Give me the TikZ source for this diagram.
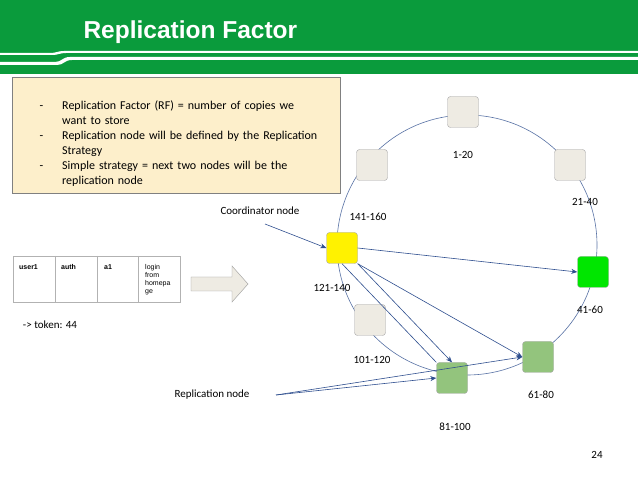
\documentclass[tikz,border=0pt]{standalone}
\usepackage{fontspec}
\setmainfont{Carlito}
\newfontfamily\arialf{Liberation Sans}
\usetikzlibrary{arrows.meta}
\definecolor{hgreen}{HTML}{0A9B3C}
\definecolor{nodegray}{HTML}{EEEBE3}
\definecolor{boxfill}{HTML}{FDEFCB}
\definecolor{repl}{HTML}{93C47D}
\definecolor{lnk}{HTML}{2F4F8F}
\begin{document}
\begin{tikzpicture}[x=1pt,y=-1pt,
 rn/.style={draw=gray!70,rounded corners=3pt,minimum size=31pt,inner sep=0pt,fill=nodegray},
 lab/.style={font=\fontsize{11}{13}\selectfont},
 ln/.style={draw=lnk,line width=0.6pt},
 ar/.style={ln,-{Stealth[length=6pt,width=5pt]}}]
\useasboundingbox (0,0) rectangle (638,478);
\fill[white] (0,0) rectangle (638,478);
\fill[hgreen] (0,0) rectangle (638,74);
\fill[white] (0,62) -- (55,62) .. controls (62,62) and (62,57) .. (70,57) -- (638,57) -- (638,60) -- (72,60) .. controls (64,60) and (64,65) .. (57,65) -- (0,65) -- cycle;
\fill[white] (0,53) -- (50,53) .. controls (57,53) and (57,51) .. (64,51) -- (638,51) -- (638,53) -- (66,53) .. controls (59,53) and (59,55) .. (52,55) -- (0,55) -- cycle;
\node[anchor=west,text=white,font=\arialf\bfseries\fontsize{24.5}{28}\selectfont] (title) at (80,32) {Replication Factor};
\node[draw=gray,line width=0.8pt,fill=boxfill,minimum width=328pt,minimum height=116pt,anchor=north west,inner sep=0pt] (box) at (12,77) {};
\node[anchor=north west,text width=300pt,font=\fontsize{12}{15}\selectfont,align=left,inner sep=0pt] (btxt) at (36,94) {%
\begin{list}{-}{\leftmargin=26pt\labelsep=19pt\itemsep=0pt\parsep=0pt\topsep=0pt}
\item Replication Factor (RF) = number of copies we\\ want to store
\item Replication node will be defined by the Replication\\ Strategy
\item Simple strategy = next two nodes will be the\\ replication node
\end{list}};
\coordinate (c) at (467,245);
\draw[lnk!80,line width=0.6pt] (c) circle (130);
\node[rn] (n1) at (463,112) {};
\node[rn] (n2) at (570,165) {};
\node[rn,fill={rgb,255:red,0;green,230;blue,0}] (n3) at (593,272) {};
\node[rn,fill=repl] (n4) at (538,357) {};
\node[rn,fill=repl] (n5) at (452,378) {};
\node[rn] (n6) at (370,320) {};
\node[rn,fill=yellow] (n7) at (342,248) {};
\node[rn] (n8) at (372,165) {};
\node[lab] (l1) at (463,155) {1-20};
\node[lab] (l2) at (585,202) {21-40};
\node[lab] (l3) at (590,310) {41-60};
\node[lab] (l4) at (541,395) {61-80};
\node[lab] (l5) at (455,427) {81-100};
\node[lab] (l6) at (372,360) {101-120};
\node[lab] (l7) at (332,288) {121-140};
\node[lab] (l8) at (368,217) {141-160};
\node[lab] (coord) at (260,211) {Coordinator node};
\node[lab] (repn) at (212,395) {Replication node};
\node[lab] (tok) at (50,325) {-> token: 44};
\node[lab] (pg) at (597,455) {24};
\coordinate (cs) at (265,224);
\draw[ar] (cs) -- (n7.west);
\draw[ar] (n7.east) -- (n3.west);
\draw[ar] (n7.south east) -- (n4.west);
\draw[ar] (n7.south east) -- (n5.north);
\draw[ln] (n7.south) -- (n5.north west);
\coordinate (rs) at (276,395);
\draw[ar] (rs) -- (n5.west);
\draw[ar] (rs) -- (n4.west);
% table
\begin{scope}[font=\arialf\fontsize{7}{8}\selectfont]
\draw[gray!60] (13,256) rectangle (180,302);
\foreach \x in {55,97,138} \draw[gray!60] (\x,256) -- (\x,302);
\node[anchor=north west,inner sep=0pt,font=\arialf\bfseries\fontsize{7}{8}\selectfont] (t1) at (19,264) {user1};
\node[anchor=north west,inner sep=0pt,font=\arialf\bfseries\fontsize{7}{8}\selectfont] (t2) at (61,264) {auth};
\node[anchor=north west,inner sep=0pt,font=\arialf\bfseries\fontsize{7}{8}\selectfont] (t3) at (104,264) {a1};
\node[anchor=north west,inner sep=0pt,align=left] (t4) at (145,264) {login\\from\\homepa\\ge};
\end{scope}
\draw[gray!80,fill=nodegray] (191,277) -- (232,277) -- (232,266) -- (248,284) -- (232,302) -- (232,291) -- (191,291) -- cycle;
\end{tikzpicture}
\end{document}
